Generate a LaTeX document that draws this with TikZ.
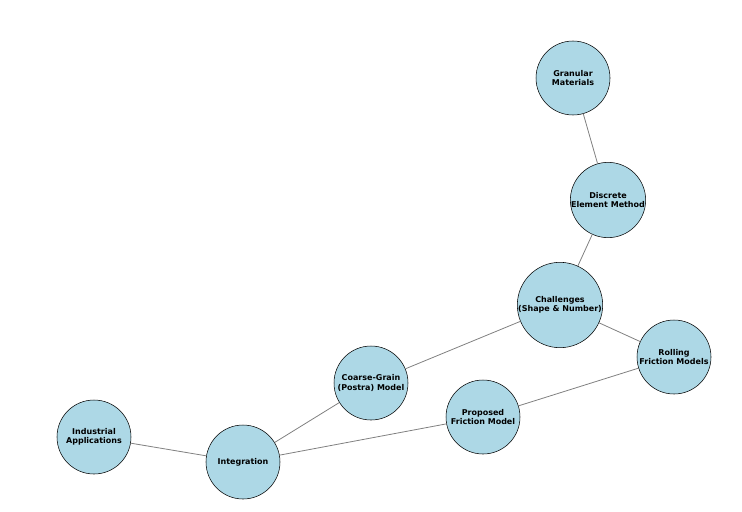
\documentclass[tikz,border=0pt]{standalone}
\usepackage{fontspec}
\setmainfont{DejaVu Sans}
\begin{document}
\begin{tikzpicture}[x=0.75pt,y=-0.75pt,
  nd/.style={circle,draw=black,fill=cyan!20!blue!10!white,fill=lightblue,minimum size=55.5pt,inner sep=0pt,align=center,font=\fontsize{6}{7}\selectfont\bfseries},
  ed/.style={draw=gray,line width=0.6pt}]
\definecolor{lightblue}{HTML}{ADD8E6}
\useasboundingbox (0,0) rectangle (742,511);
\node[nd] (gm) at (573,78) {Granular\\Materials};
\node[nd] (dem) at (608,200) {Discrete\\Element Method};
\node[nd] (ch) at (560,305) {Challenges\\(Shape \& Number)};
\node[nd] (rf) at (674,357) {Rolling\\Friction Models};
\node[nd] (cg) at (371,383) {Coarse-Grain\\(Postra) Model};
\node[nd] (pf) at (483,417) {Proposed\\Friction Model};
\node[nd] (ia) at (94,437) {Industrial\\Applications};
\node[nd] (in) at (243,462) {Integration};
\draw[ed] (gm)--(dem);
\draw[ed] (dem)--(ch);
\draw[ed] (ch)--(rf);
\draw[ed] (ch)--(cg);
\draw[ed] (rf)--(pf);
\draw[ed] (cg)--(in);
\draw[ed] (pf)--(in);
\draw[ed] (ia)--(in);
\end{tikzpicture}
\end{document}
